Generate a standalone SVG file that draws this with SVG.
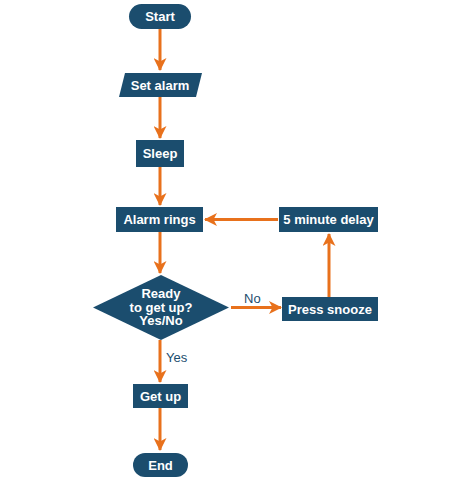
<svg xmlns="http://www.w3.org/2000/svg" width="474" height="481" viewBox="0 0 474 481">
<style>
.n{fill:#1b4d6e}
.t{fill:#fff;font-family:"Liberation Sans",Arial,sans-serif;font-weight:bold;font-size:13px;text-anchor:middle}
.l{fill:#1b4d6e;font-family:"Liberation Sans",Arial,sans-serif;font-size:13px}
.c{stroke:#e8711c;stroke-width:3;fill:none;marker-end:url(#ah)}
</style>
<defs>
<marker id="ah" viewBox="0 0 13 13" refX="12" refY="6.5" markerWidth="13" markerHeight="13" markerUnits="userSpaceOnUse" orient="auto">
<path d="M0,0 L13,6.5 L0,13 L3.5,6.5 Z" fill="#e8711c"/>
</marker>
</defs>
<rect width="474" height="481" fill="#fff"/>
<g id="connectors">
<line class="c" x1="160" y1="29" x2="160" y2="70"/>
<line class="c" x1="160" y1="97" x2="160" y2="138"/>
<line class="c" x1="160" y1="167" x2="160" y2="205"/>
<line class="c" x1="160" y1="232" x2="160" y2="273"/>
<line class="c" x1="278" y1="219.5" x2="205" y2="219.5"/>
<line class="c" x1="231" y1="307.5" x2="281" y2="307.5"/>
<line class="c" x1="329" y1="297" x2="329" y2="234"/>
<line class="c" x1="160" y1="340" x2="160" y2="382"/>
<line class="c" x1="160" y1="408" x2="160" y2="450"/>
<text class="l" x="244" y="303">No</text>
<text class="l" x="166" y="362">Yes</text>
</g>
<g id="start"><rect class="n" x="129" y="4" width="62" height="25" rx="12.5"/><text class="t" x="160" y="21">Start</text></g>
<g id="set-alarm"><polygon class="n" points="125,73 202,73 196,97 119,97"/><text class="t" x="160" y="89.5">Set alarm</text></g>
<g id="sleep"><rect class="n" x="136" y="140" width="48" height="27"/><text class="t" x="160" y="158">Sleep</text></g>
<g id="alarm-rings"><rect class="n" x="116" y="207" width="87" height="25"/><text class="t" x="159.5" y="224">Alarm rings</text></g>
<g id="delay"><rect class="n" x="279" y="207" width="99" height="25"/><text class="t" x="328.5" y="224">5 minute delay</text></g>
<g id="decision"><polygon class="n" points="161,275 229,307.5 161,340 93,307.5"/><text class="t" x="161" y="298">Ready</text><text class="t" x="161" y="311.5">to get up?</text><text class="t" x="161" y="325">Yes/No</text></g>
<g id="press-snooze"><rect class="n" x="282" y="297" width="96" height="24"/><text class="t" x="330" y="313.5">Press snooze</text></g>
<g id="get-up"><rect class="n" x="133" y="384" width="55" height="24"/><text class="t" x="160.5" y="400.5">Get up</text></g>
<g id="end"><rect class="n" x="133" y="453" width="55" height="24" rx="12"/><text class="t" x="160.5" y="469.5">End</text></g>
</svg>
